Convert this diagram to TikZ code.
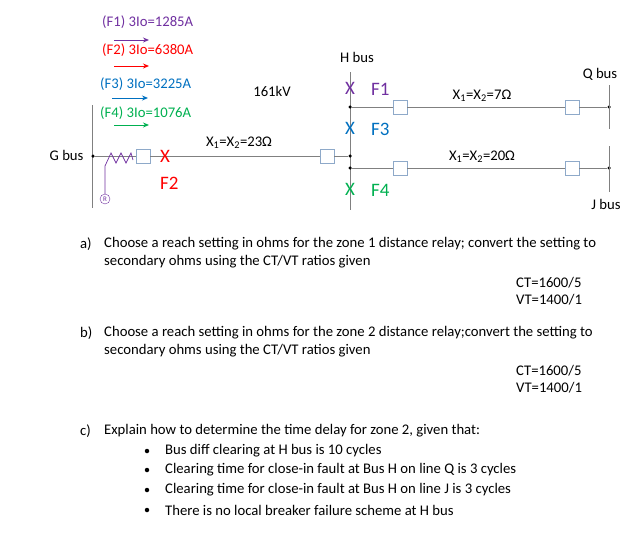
\documentclass[tikz,border=0pt]{standalone}
\usepackage{fontspec}
\setmainfont{Carlito}
\usetikzlibrary{arrows.meta}
\definecolor{cpur}{HTML}{7030A0}
\definecolor{cred}{HTML}{FF0000}
\definecolor{cblu}{HTML}{0070C0}
\definecolor{cgrn}{HTML}{00B050}
\definecolor{cbox}{HTML}{8EA9C9}
\definecolor{cln}{HTML}{808080}
\begin{document}
\begin{tikzpicture}[x=1pt,y=-1pt,font=\fontsize{14.7}{16}\selectfont,
  brk/.style={draw=cbox,fill=white,line width=0.8pt,minimum size=14pt,inner sep=0pt},
  dotn/.style={circle,fill=black,inner sep=0pt,minimum size=3.5pt},
  txt/.style={anchor=west,inner sep=0pt},
  big/.style={font=\fontsize{19}{19}\selectfont},
  ln/.style={draw=cln,line width=0.9pt},
  arr/.style={-{Stealth[length=6pt,width=5pt]},line width=1pt}]
\useasboundingbox (0,0) rectangle (628,536);
% top labels
\node[txt,text=cpur] (l1) at (102,22) {(F1) 3Io=1285A};
\node[txt,text=cred] (l2) at (102,50) {(F2) 3Io=6380A};
\node[txt,text=cblu] (l3) at (100,84) {(F3) 3Io=3225A};
\node[txt,text=cgrn] (l4) at (100,113) {(F4) 3Io=1076A};
\coordinate (a1s) at (114,40); \coordinate (a1e) at (149,40);
\coordinate (a2s) at (114,66); \coordinate (a2e) at (149,66);
\coordinate (a3s) at (112,98); \coordinate (a3e) at (148,98);
\coordinate (a4s) at (114,125); \coordinate (a4e) at (149,125);
\draw[arr,cpur] (a1s) -- (a1e);
\draw[arr,cred] (a2s) -- (a2e);
\draw[arr,cblu] (a3s) -- (a3e);
\draw[arr,cgrn] (a4s) -- (a4e);
\node (kv) at (272,91) {161kV};
% G bus
\coordinate (gt) at (92,105); \coordinate (gb) at (92,208);
\draw[ln] (gt) -- (gb);
\node[anchor=east] (gl) at (87,155) {G bus};
\node[dotn] (gd) at (93,156) {};
\node[brk] (b1) at (143,156) {};
\node[brk] (b2) at (327,156) {};
\draw[ln] (gd) -- (b1) (b1) -- (b2);
% resistor/relay
\node[circle,draw=cpur,inner sep=0pt,minimum size=10pt,font=\fontsize{7}{7}\selectfont,text=cpur] (r) at (105,199) {R};
\coordinate (z0) at (105,166);
\draw[cpur,line width=0.7pt] (r) -- (z0) -- (111,153) -- (116,163) -- (121,153) -- (126,163) -- (131,153) -- (133,160);
\node[text=cred,big] (x2) at (165,156) {X};
\node[txt,text=cred,big] (f2) at (160,183) {F2};
\node (z23) at (239,143) {X\textsubscript{1}=X\textsubscript{2}=23Ω};
% H bus
\coordinate (ht) at (350,72); \coordinate (hb) at (350,210);
\draw[ln] (ht) -- (hb);
\node (hl) at (357,57) {H bus};
\node[dotn] (h1) at (350,107) {};
\node[dotn] (h2) at (350,156) {};
\node[dotn] (h3) at (350,168) {};
\draw[ln] (b2) -- (h2);
\node[text=cpur,big] (x1) at (350,88) {X};
\node[txt,text=cpur,big] (f1) at (371,89) {F1};
\node[text=cblu,big] (x3) at (350,128) {X};
\node[txt,text=cblu,big] (f3) at (371,129) {F3};
\node[text=cgrn,big] (x4) at (350,189) {X};
\node[txt,text=cgrn,big] (f4) at (371,190) {F4};
% Q line
\node[brk] (q1) at (400,107) {};
\node[brk] (q2) at (572,107) {};
\node[dotn] (qd) at (609,107) {};
\draw[ln] (h1) -- (q1) (q1) -- (q2) (q2) -- (qd);
\coordinate (qt) at (609,85); \coordinate (qb) at (609,129);
\draw[ln] (qt) -- (qb);
\node (ql) at (600,74) {Q bus};
\node (z7) at (482,96) {X\textsubscript{1}=X\textsubscript{2}=7Ω};
% J line
\node[brk] (j1) at (400,168) {};
\node[brk] (j2) at (572,168) {};
\node[dotn] (jd) at (609,168) {};
\draw[ln] (h3) -- (j1) (j1) -- (j2) (j2) -- (jd);
\coordinate (jt) at (609,146); \coordinate (jb) at (609,192);
\draw[ln] (jt) -- (jb);
\node (jl) at (606,204) {J bus};
\node (z20) at (482,157) {X\textsubscript{1}=X\textsubscript{2}=20Ω};
% questions
\node[txt] (qa) at (80,244) {a)};
\node[txt] (qa1) at (104,244) {Choose a reach setting in ohms for the zone 1 distance relay; convert the setting to};
\node[txt] (qa2) at (104,262) {secondary ohms using the CT/VT ratios given};
\node[txt] (ct1) at (516,283) {CT=1600/5};
\node[txt] (vt1) at (516,300) {VT=1400/1};
\node[txt] (qb0) at (80,333) {b)};
\node[txt] (qb1) at (104,333) {Choose a reach setting in ohms for the zone 2 distance relay;convert the setting to};
\node[txt] (qb2) at (104,351) {secondary ohms using the CT/VT ratios given};
\node[txt] (ct2) at (516,371) {CT=1600/5};
\node[txt] (vt2) at (516,388) {VT=1400/1};
\node[txt] (qc) at (80,431) {c)};
\node[txt] (qc1) at (104,431) {Explain how to determine the time delay for zone 2, given that:};
\foreach \y/\t in {451/Bus diff clearing at H bus is 10 cycles,
  470/Clearing time for close-in fault at Bus H on line Q is 3 cycles,
  490/Clearing time for close-in fault at Bus H on line J is 3 cycles,
  510/There is no local breaker failure scheme at H bus}{
  \node[circle,fill=black,inner sep=0pt,minimum size=4.5pt] at (147,\y) {};
  \node[txt] at (165,\y) {\t};
}
\end{tikzpicture}
\end{document}
